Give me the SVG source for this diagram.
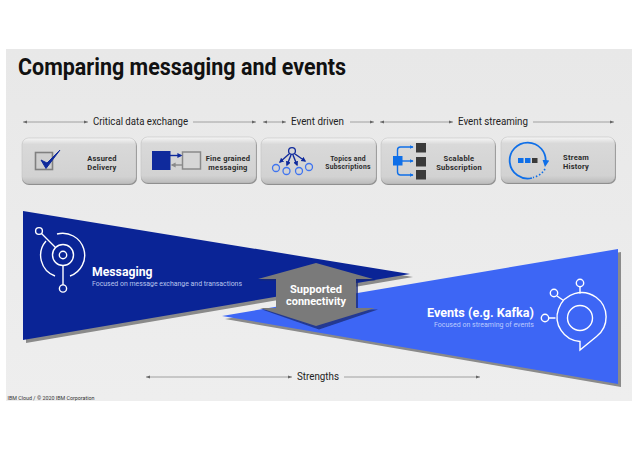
<svg xmlns="http://www.w3.org/2000/svg" width="638" height="451" viewBox="0 0 638 451">
<style>
text{font-family:Roboto,"Liberation Sans",sans-serif}
.title{font-size:23px;font-weight:700;fill:#111}
.band{font-size:11px;fill:#222;text-anchor:middle}
.card{font-size:7.500px;font-weight:700;fill:#2a2a2a;text-anchor:middle;letter-spacing:.25px}
.rng{stroke:#a0a0a0;stroke-width:1;fill:none;marker-end:url(#tip);marker-start:url(#tipS)}
.cb{fill:url(#cardFill);stroke:#c4c4c4;stroke-width:.6}
.cs{fill:#8f8f8f}
.w{fill:none;stroke:#fff;stroke-width:1.4}
.ln{fill:none;stroke-width:1.4}
</style>
<defs>
<linearGradient id="cardFill" x1="0" y1="0" x2="0" y2="1">
<stop offset="0" stop-color="#f6f6f6"/><stop offset=".14" stop-color="#d9d9d9"/><stop offset=".85" stop-color="#d2d2d2"/><stop offset="1" stop-color="#bdbdbd"/>
</linearGradient>
<linearGradient id="pageFill" x1="0" y1="0" x2="0" y2="1">
<stop offset="0" stop-color="#e8e8e8"/><stop offset="1" stop-color="#eeeeee"/>
</linearGradient>
<filter id="soft" x="-5%" y="-5%" width="110%" height="110%"><feGaussianBlur stdDeviation="0.5"/></filter>
<marker id="tip" markerWidth="5" markerHeight="5" refX="4" refY="2" orient="auto"><path d="M0,0.4 L4,2 L0,3.6Z" fill="#666"/></marker>
<marker id="tipS" markerWidth="5" markerHeight="5" refX="0" refY="2" orient="auto"><path d="M4,0.4 L0,2 L4,3.6Z" fill="#666"/></marker>
<marker id="ab" markerWidth="5" markerHeight="5" refX="3.4" refY="2" orient="auto" markerUnits="userSpaceOnUse"><path d="M0,0 L4,2 L0,4Z" fill="#0f6fe8"/></marker>
<marker id="an" markerWidth="6" markerHeight="6" refX="3.6" refY="2.5" orient="auto" markerUnits="userSpaceOnUse"><path d="M0,0 L5,2.5 L0,5Z" fill="#0f2a9c"/></marker>
<marker id="ag" markerWidth="6" markerHeight="6" refX="3.6" refY="2.5" orient="auto" markerUnits="userSpaceOnUse"><path d="M0,0 L5,2.5 L0,5Z" fill="#8a8a8a"/></marker>
<marker id="as" markerWidth="8" markerHeight="8" refX="3" refY="3.5" orient="auto" markerUnits="userSpaceOnUse"><path d="M0,0 L7,3.5 L0,7Z" fill="#0f6fe8"/></marker>
</defs>

<rect x="6" y="49" width="626" height="352" fill="url(#pageFill)"/>
<text class="title" x="18" y="75" textLength="328" lengthAdjust="spacingAndGlyphs">Comparing messaging and events</text>

<g id="connectors">
<path class="rng" d="M23,122 H88"/><path class="rng" style="marker-start:none" d="M193,122 H256"/>
<path class="rng" d="M263,122 H286"/><path class="rng" style="marker-start:none" d="M350,122 H374"/>
<path class="rng" d="M380,122 H453"/><path class="rng" style="marker-start:none" d="M533,122 H614"/>
<path class="rng" d="M146,377 H292"/><path class="rng" style="marker-start:none" d="M344,377 H480"/>
</g>
<g id="band-labels">
<text class="band" x="140.500" y="125" textLength="95" lengthAdjust="spacingAndGlyphs">Critical data exchange</text>
<text class="band" x="317.500" y="125" textLength="53" lengthAdjust="spacingAndGlyphs">Event driven</text>
<text class="band" x="493" y="125" textLength="70" lengthAdjust="spacingAndGlyphs">Event streaming</text>
<text class="band" x="318" y="380" textLength="42" lengthAdjust="spacingAndGlyphs">Strengths</text>
</g>

<g id="card-assured">
<rect class="cs" x="22" y="139" width="115" height="46" rx="7"/>
<rect class="cb" x="22" y="138" width="114" height="45.500" rx="6.500"/>
<rect x="35.500" y="152.500" width="17" height="17" fill="#cfcfcf" stroke="#808080" stroke-width="1.600"/>
<path d="M41,160 L46,168.500 L60,150 L47,163 Z" fill="#0f2a9c" stroke="#0f2a9c" stroke-width="1"/>
<text class="card" x="102" y="161">Assured</text><text class="card" x="102" y="170">Delivery</text>
</g>

<g id="card-fine">
<rect class="cs" x="141" y="138" width="116" height="46" rx="7"/>
<rect class="cb" x="141" y="137" width="115" height="45.500" rx="6.500"/>
<rect x="152" y="151" width="18.500" height="19" fill="#0f2a9c"/>
<rect x="182.500" y="152" width="18" height="17" fill="#d6d6d6" stroke="#8a8a8a" stroke-width="1.500"/>
<path class="ln" stroke="#0f2a9c" marker-end="url(#an)" d="M170,155.500 H181"/>
<path class="ln" stroke="#8a8a8a" marker-end="url(#ag)" d="M182,165 H172"/>
<text class="card" x="228" y="161">Fine grained</text><text class="card" x="228" y="170">messaging</text>
</g>

<g id="card-topics">
<rect class="cs" x="261" y="139" width="116" height="46" rx="7"/>
<rect class="cb" x="261" y="138" width="115" height="45.500" rx="6.500"/>
<circle cx="292" cy="151" r="3.400" fill="#d6d6d6" stroke="#0f2a9c" stroke-width="1.300"/>
<g class="ln" stroke="#0f2a9c">
<path marker-end="url(#an)" d="M289,154 L280,162"/>
<path marker-end="url(#an)" d="M291,155 L287,165"/>
<path marker-end="url(#an)" d="M293,155 L297,165"/>
<path marker-end="url(#an)" d="M295,154 L305,161"/>
</g>
<g fill="none" stroke="#3f74f0" stroke-width="1.300">
<circle cx="276" cy="168" r="3.500"/><circle cx="286.500" cy="171" r="3.500"/><circle cx="299" cy="171" r="3.500"/><circle cx="309" cy="167" r="3.500"/>
</g>
<text class="card" style="font-size:6.800px" x="348" y="161">Topics and</text><text class="card" style="font-size:6.800px" x="348" y="169">Subscriptions</text>
</g>

<g id="card-scalable">
<rect class="cs" x="381" y="139" width="115" height="46" rx="7"/>
<rect class="cb" x="381" y="138" width="114" height="45.500" rx="6.500"/>
<rect x="393" y="156" width="9.500" height="9.500" fill="#0f6fe8"/>
<g class="ln" stroke="#0f6fe8">
<path marker-end="url(#ab)" d="M397.500,156 V150 Q397.500,147 400.500,147 H413"/>
<path marker-end="url(#ab)" d="M402,161 H413"/>
<path marker-end="url(#ab)" d="M397.500,165 V172 Q397.500,175 400.500,175 H413"/>
</g>
<g fill="#3a3a3a"><rect x="416" y="143" width="10" height="9.500"/><rect x="416" y="157" width="10" height="9.500"/><rect x="416" y="170" width="10" height="9.500"/></g>
<text class="card" x="459" y="161">Scalable</text><text class="card" x="459" y="170">Subscription</text>
</g>

<g id="card-stream">
<rect class="cs" x="501" y="138" width="115" height="46" rx="7"/>
<rect class="cb" x="501" y="137" width="114" height="45.500" rx="6.500"/>
<path fill="none" stroke="#0f6fe8" stroke-width="1.800" marker-end="url(#as)" d="M532,178 A18,18 0 1 1 545.500,163"/>
<path fill="none" stroke="#0f6fe8" stroke-width="1.600" stroke-dasharray="1.500 2" d="M545,169 A18,18 0 0 1 533,177.500"/>
<rect x="518" y="158" width="5.500" height="5" fill="#0f6fe8"/><rect x="525" y="158" width="5.500" height="5" fill="#0f6fe8"/><rect x="532" y="158" width="5.500" height="5" fill="#3a3a3a"/>
<text class="card" x="576" y="160">Stream</text><text class="card" x="576" y="169">History</text>
</g>

<g id="node-events">
<polygon points="225,319 621,252 621,387" fill="#8a8a8a" filter="url(#soft)"/>
<polygon points="222,316 618,249 618,384" fill="#3d66f5"/>
<text x="534" y="317" text-anchor="end" font-size="13" font-weight="700" fill="#fff" textLength="107" lengthAdjust="spacingAndGlyphs">Events (e.g. Kafka)</text>
<text x="534" y="327" text-anchor="end" font-size="7.500" fill="#bccbff" textLength="100" lengthAdjust="spacingAndGlyphs">Focused on streaming of events</text>
<path class="w" d="M580,350 V341.500 A24.500,24.500 0 1 1 596.500,336.500 Z"/>
<circle class="w" cx="580" cy="318" r="12.500"/>
<circle class="w" cx="580" cy="283" r="3.700"/><circle class="w" cx="554" cy="293" r="3.700"/><circle class="w" cx="545" cy="318" r="3.700"/>
<path class="w" d="M580,287 V293.500 M557,296 L563.500,300.500 M548.700,318 H555.500"/>
</g>

<g id="node-messaging">
<polygon points="26,214 413,277 26,343" fill="#8a8a8a" filter="url(#soft)"/>
<polygon points="23,211 410,274 23,340" fill="#0a2496"/>
<text x="92" y="276" font-size="13.500" font-weight="700" fill="#fff" textLength="60.500" lengthAdjust="spacingAndGlyphs">Messaging</text>
<text x="92" y="286" font-size="7.800" fill="#b9c4ee" textLength="150" lengthAdjust="spacingAndGlyphs">Focused on message exchange and transactions</text>
<circle class="w" cx="63" cy="255" r="3.700"/><circle class="w" cx="63" cy="255" r="10.500"/>
<path class="w" d="M57,234 A22,22 0 0 1 70,276 M46,241 A22,22 0 0 0 55,276"/>
<circle class="w" cx="39" cy="231" r="3.400"/><circle class="w" cx="63" cy="288.500" r="3.600"/>
<path class="w" d="M41.500,233.500 L55.500,247.500 M63,265.500 V285"/>
</g>

<g id="node-connectivity">
<polygon points="316,263 374,279 356,279 356,308 376,308 317,328 260,308 276,308 276,279 257,279" fill="#1a2a70" opacity=".75" transform="translate(2,1.500)" filter="url(#soft)"/>
<polygon points="316,263 373,279 356,279 356,308 375,308 316,326 260,308 276,308 276,279 258,279" fill="#7a7a7a"/>
<text x="316" y="292.500" text-anchor="middle" font-size="10.500" font-weight="700" fill="#fff" textLength="52" lengthAdjust="spacingAndGlyphs">Supported</text>
<text x="316" y="305" text-anchor="middle" font-size="10.500" font-weight="700" fill="#fff" textLength="60" lengthAdjust="spacingAndGlyphs">connectivity</text>
</g>

<text x="7.500" y="399.500" font-size="5.500" fill="#333" textLength="87" lengthAdjust="spacingAndGlyphs">IBM Cloud / © 2020 IBM Corporation</text>
</svg>
